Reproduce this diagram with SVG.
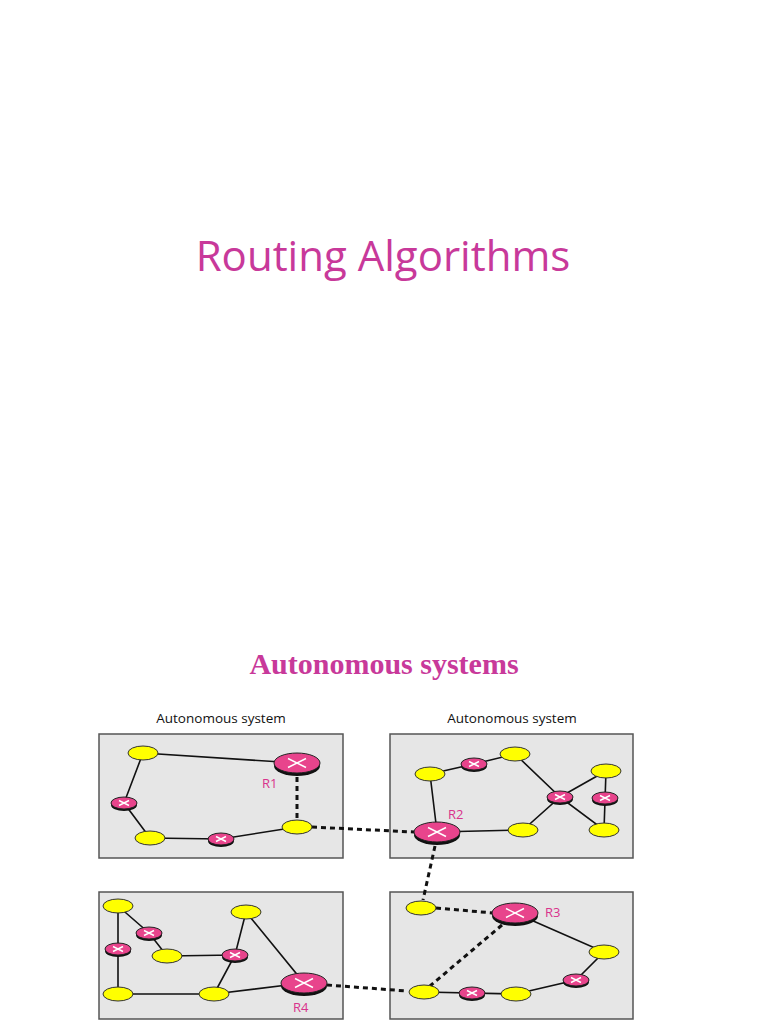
<svg xmlns="http://www.w3.org/2000/svg" width="768" height="1024" viewBox="0 0 768 1024">
<defs>
<style>
.box{fill:#e6e6e6;stroke:#555;stroke-width:1.5}
.y{fill:#ffff00;stroke:#333;stroke-width:1}
.r{fill:#e8448c;stroke:#222;stroke-width:1}
.sh{fill:#111}
.x{stroke:#fff;stroke-width:1.5}
.ln{stroke:#111;stroke-width:1.6;fill:none}
.d{stroke:#111;stroke-width:3;stroke-dasharray:5,4;fill:none}
.lab{font-family:"Open Sans","Liberation Sans",sans-serif;fill:#d9328c;font-size:13px}
.as{font-family:"Open Sans","Liberation Sans",sans-serif;fill:#111;font-size:13.5px;text-anchor:middle}
</style>
<g id="sr"><ellipse class="sh" cx="0" cy="2" rx="13" ry="6"/><ellipse class="r" cx="0" cy="0" rx="13" ry="6"/><path class="x" d="M-5,-2.5L5,2.5M-5,2.5L5,-2.5"/></g>
<g id="br"><ellipse class="sh" cx="0" cy="3" rx="23" ry="10"/><ellipse class="r" cx="0" cy="0" rx="23" ry="10"/><path class="x" d="M-9,-4.5L9,4.5M-9,4.5L9,-4.5" stroke-width="2"/></g>
<ellipse id="yn" class="y" cx="0" cy="0" rx="15" ry="7"/>
</defs>
<rect width="768" height="1024" fill="#fff"/>
<text x="383" y="271" text-anchor="middle" font-family="'Open Sans','Liberation Sans',sans-serif" font-size="42" fill="#c8399a">Routing Algorithms</text>
<text x="384" y="674" text-anchor="middle" font-family="'Liberation Serif',serif" font-weight="bold" font-size="30" fill="#c8399a">Autonomous systems</text>
<text class="as" x="221" y="723">Autonomous system</text>
<text class="as" x="512" y="723">Autonomous system</text>
<g id="boxes">
<rect class="box" x="99" y="734" width="244" height="124"/>
<rect class="box" x="390" y="734" width="243" height="124"/>
<rect class="box" x="99" y="892" width="244" height="127"/>
<rect class="box" x="390" y="892" width="243" height="127"/>
</g>
<g id="connectors">
<path class="ln" d="M143,753L297,763M143,753L124,803L150,838L221,839L297,827"/>
<path class="ln" d="M430,774L437,832M430,774L474,764L515,754L560,797L606,771L604,830L560,797L523,830L437,832"/>
<path class="ln" d="M118,906L118,994L214,994L304,983L246,912L235,955L214,994M118,906L149,933L167,956L235,955"/>
<path class="ln" d="M515,913L604,952L576,980L516,994L424,992"/>
<path class="d" d="M297,777L297,820M312,827L414,832M435,846L423,900M436,908L493,913M502,925L430,986M327,985L407,991"/>
</g>
<g id="n-tl"><use href="#yn" x="143" y="753"/><use href="#br" x="297" y="763"/><use href="#sr" x="124" y="803"/><use href="#yn" x="150" y="838"/><use href="#sr" x="221" y="839"/><use href="#yn" x="297" y="827"/></g>
<g id="n-tr"><use href="#yn" x="430" y="774"/><use href="#sr" x="474" y="764"/><use href="#yn" x="515" y="754"/><use href="#yn" x="606" y="771"/><use href="#sr" x="560" y="797"/><use href="#sr" x="605" y="798"/><use href="#yn" x="604" y="830"/><use href="#yn" x="523" y="830"/><use href="#br" x="437" y="832"/></g>
<g id="n-bl"><use href="#yn" x="118" y="906"/><use href="#sr" x="149" y="933"/><use href="#sr" x="118" y="949"/><use href="#yn" x="167" y="956"/><use href="#sr" x="235" y="955"/><use href="#yn" x="246" y="912"/><use href="#yn" x="118" y="994"/><use href="#yn" x="214" y="994"/><use href="#br" x="304" y="983"/></g>
<g id="n-br"><use href="#yn" x="421" y="908"/><use href="#br" x="515" y="913"/><use href="#yn" x="604" y="952"/><use href="#sr" x="576" y="980"/><use href="#yn" x="516" y="994"/><use href="#sr" x="472" y="993"/><use href="#yn" x="424" y="992"/></g>
<g id="labels"><text class="lab" x="262" y="788">R1</text><text class="lab" x="448" y="819">R2</text><text class="lab" x="545" y="917">R3</text><text class="lab" x="293" y="1012">R4</text></g>
</svg>
